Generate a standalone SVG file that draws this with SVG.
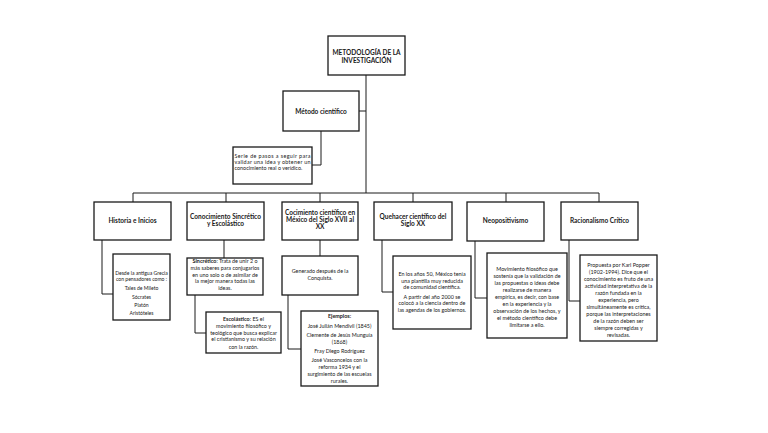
<svg xmlns="http://www.w3.org/2000/svg" width="768" height="433" viewBox="0 0 768 433">
<style>
rect.box{fill:#fff;stroke:#1a1a1a;stroke-width:1.3}
.conn line,.conn polyline{stroke:#1a1a1a;stroke-width:1;fill:none}
text{font-family:Lato,"Open Sans","Liberation Sans",sans-serif;fill:#1a1a1a}
.h{font-size:6.5px;font-weight:bold;text-anchor:middle}
.t{font-size:5.4px;text-anchor:middle}
.s{font-size:5.1px}
.l{font-size:5.4px}
.b{font-weight:bold}
</style>
<rect width="768" height="433" fill="#fff"/>
<g class="conn" id="connectors">
<line x1="366" y1="75" x2="366" y2="193"/>
<line x1="359" y1="111" x2="366" y2="111"/>
<polyline points="321,131 321,165 312,165"/>
<line x1="133" y1="193" x2="599" y2="193"/>
<line x1="133" y1="193" x2="133" y2="202"/>
<line x1="226" y1="193" x2="226" y2="202"/>
<line x1="320" y1="193" x2="320" y2="202"/>
<line x1="413" y1="193" x2="413" y2="202"/>
<line x1="506" y1="193" x2="506" y2="202"/>
<line x1="599" y1="193" x2="599" y2="202"/>
<polyline points="102,240 102,294 113,294"/>
<line x1="224" y1="240" x2="224" y2="258"/>
<polyline points="195,295 195,333 206,333"/>
<line x1="320" y1="240" x2="320" y2="256"/>
<polyline points="288,295 288,349 301,349"/>
<polyline points="382,240 382,292 393,292"/>
<polyline points="475,241 475,298 487,298"/>
<polyline points="569,240 569,301 580,301"/>
</g>
<g id="main">
<rect class="box" x="328" y="36" width="77" height="39"/>
<text class="h" x="366.5" y="55">METODOLOGÍA DE LA</text>
<text class="h" x="366.5" y="62.5">INVESTIGACIÓN</text>
</g>
<g id="metodo">
<rect class="box" x="283" y="91" width="76" height="40"/>
<text class="h" x="321" y="113.5">Método científico</text>
</g>
<g id="serie">
<rect class="box" x="233" y="147" width="79" height="37"/>
<text class="l" x="234.5" y="158" textLength="76" lengthAdjust="spacing">Serie de pasos a seguir para</text>
<text class="l" x="234.5" y="164" textLength="76" lengthAdjust="spacing">validar una idea y obtener un</text>
<text class="l" x="234.5" y="170">conocimiento real o verídico.</text>
</g>
<g id="historia">
<rect class="box" x="94" y="202" width="77" height="38"/>
<text class="h" x="132.5" y="223">Historia e Inicios</text>
</g>
<g id="sincretico">
<rect class="box" x="187" y="202" width="77" height="38"/>
<text class="h" x="225.5" y="218.5">Conocimiento Sincrético</text>
<text class="h" x="225.5" y="226">y Escolástico</text>
</g>
<g id="mexico">
<rect class="box" x="282" y="202" width="76" height="38"/>
<text class="h" x="320" y="214.5">Cocimiento científico en</text>
<text class="h" x="320" y="221.5">México del Siglo XVII al</text>
<text class="h" x="320" y="228.5">XX</text>
</g>
<g id="quehacer">
<rect class="box" x="374" y="202" width="78" height="38"/>
<text class="h" x="413" y="218.5">Quehacer científico del</text>
<text class="h" x="413" y="226">Siglo XX</text>
</g>
<g id="neo">
<rect class="box" x="467" y="202" width="77" height="39"/>
<text class="h" x="505.5" y="223">Neopositivismo</text>
</g>
<g id="racionalismo">
<rect class="box" x="561" y="202" width="77" height="38"/>
<text class="h" x="599.5" y="223">Racionalismo Crítico</text>
</g>
<g id="grecia">
<rect class="box" x="113" y="254" width="57" height="66"/>
<text class="t s" x="141.5" y="274.5">Desde la antigua Grecia</text>
<text class="t s" x="141.5" y="281">con pensadores como :</text>
<text class="t s" x="141.5" y="290">Tales de Mileto</text>
<text class="t s" x="141.5" y="298.5">Sócrates</text>
<text class="t s" x="141.5" y="306.5">Platón</text>
<text class="t s" x="141.5" y="315">Aristóteles</text>
</g>
<g id="sincretico-def">
<rect class="box" x="187" y="258" width="76" height="37"/>
<text class="t" x="225" y="263"><tspan class="b">Sincrético</tspan>: Trata de unir 2 o</text>
<text class="t" x="225" y="269.8">más saberes para conjugarlos</text>
<text class="t" x="225" y="276.6">en uno solo o de asimilar de</text>
<text class="t" x="225" y="283.4">la mejor manera todas las</text>
<text class="t" x="225" y="290.2">ideas.</text>
</g>
<g id="escolastico-def">
<rect class="box" x="206" y="312" width="75" height="41"/>
<text class="t" x="243.5" y="321"><tspan class="b">Escolástico</tspan>: ES el</text>
<text class="t" x="243.5" y="327.8">movimiento filosófico y</text>
<text class="t" x="243.5" y="334.6">teológico que busca explicar</text>
<text class="t" x="243.5" y="341.4">el cristianismo y su relación</text>
<text class="t" x="243.5" y="349">con la razón.</text>
</g>
<g id="generado">
<rect class="box" x="282" y="256" width="76" height="39"/>
<text class="t" x="320" y="273">Generado después de la</text>
<text class="t" x="320" y="280">Conquista.</text>
</g>
<g id="ejemplos">
<rect class="box" x="301" y="311" width="77" height="75"/>
<text class="t b" x="339.5" y="318">Ejemplos:</text>
<text class="t" x="339.5" y="328">José Julián Mendivil (1845)</text>
<text class="t" x="339.5" y="337">Clemente de Jesús Munguía</text>
<text class="t" x="339.5" y="343.5">(1868)</text>
<text class="t" x="339.5" y="353">Fray Diego Rodríguez</text>
<text class="t" x="339.5" y="362">José Vasconcelos con la</text>
<text class="t" x="339.5" y="369">reforma 1934 y el</text>
<text class="t" x="339.5" y="376">surgimiento de las escuelas</text>
<text class="t" x="339.5" y="383">rurales.</text>
</g>
<g id="quehacer-def">
<rect class="box" x="393" y="256" width="78" height="73"/>
<text class="t" x="432" y="276">En los años 50, México tenía</text>
<text class="t" x="432" y="282.7">una plantilla muy reducida</text>
<text class="t" x="432" y="289.4">de comunidad científica.</text>
<text class="t" x="432" y="298.7">A partir del año 2000 se</text>
<text class="t" x="432" y="305.4">colocó a la ciencia dentro de</text>
<text class="t" x="432" y="312.1">las agendas de los gobiernos.</text>
</g>
<g id="neo-def">
<rect class="box" x="487" y="253" width="80" height="85"/>
<text class="t" x="527" y="271">Movimiento filosófico que</text>
<text class="t" x="527" y="278">sostenía que la validación de</text>
<text class="t" x="527" y="285">las propuestas o ideas debe</text>
<text class="t" x="527" y="292">realizarse de manera</text>
<text class="t" x="527" y="299">empírica, es decir, con base</text>
<text class="t" x="527" y="306">en la experiencia y la</text>
<text class="t" x="527" y="313">observación de los hechos, y</text>
<text class="t" x="527" y="320">el método científico debe</text>
<text class="t" x="527" y="327">limitarse a ello.</text>
</g>
<g id="racionalismo-def">
<rect class="box" x="580" y="255" width="77" height="86"/>
<text class="t" x="618.5" y="267">Propuesta por Karl Popper</text>
<text class="t" x="618.5" y="274">(1902-1994). Dice que el</text>
<text class="t" x="618.5" y="281">conocimiento es fruto de una</text>
<text class="t" x="618.5" y="288">actividad interpretativa de la</text>
<text class="t" x="618.5" y="295">razón fundada en la</text>
<text class="t" x="618.5" y="302">experiencia, pero</text>
<text class="t" x="618.5" y="309">simultáneamente es crítica,</text>
<text class="t" x="618.5" y="316">porque las interpretaciones</text>
<text class="t" x="618.5" y="323">de la razón deben ser</text>
<text class="t" x="618.5" y="330">siempre corregidas y</text>
<text class="t" x="618.5" y="337">revisadas.</text>
</g>
</svg>
